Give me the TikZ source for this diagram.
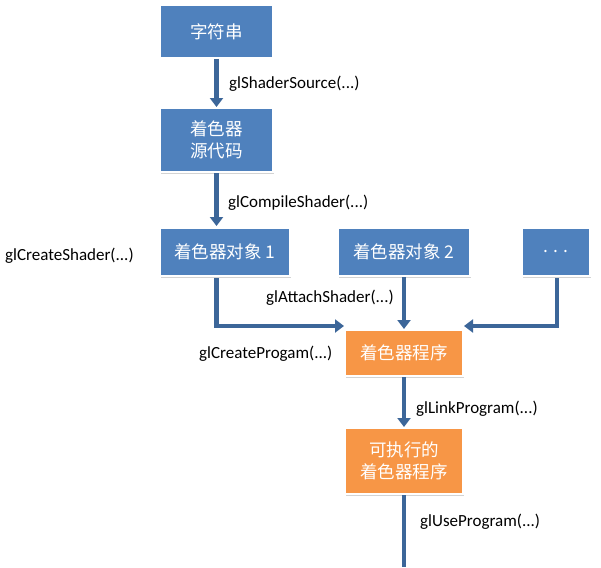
\documentclass[tikz,border=0pt]{standalone}
\usepackage{fontspec}
\setmainfont{Carlito}
\newfontfamily\cjk{Noto Sans CJK SC}
\usetikzlibrary{arrows.meta,shadows}
\definecolor{bbox}{HTML}{4F81BD}
\definecolor{obox}{HTML}{F79646}
\definecolor{arr}{HTML}{3C6699}
\tikzset{
 boxb/.style={draw=white,line width=2pt,fill=bbox,text=white,font=\cjk\fontsize{17.5}{22}\selectfont,align=center,inner sep=0pt,drop shadow={shadow xshift=1pt,shadow yshift=-1.5pt,opacity=0.35}},
 boxo/.style={boxb,fill=obox},
 conn/.style={draw=arr,line width=4.5pt,-{Triangle[width=13pt,length=9pt]}},
 plain/.style={draw=arr,line width=4.5pt},
 lbl/.style={font=\fontsize{17}{20}\selectfont,text=black,inner sep=0pt}
}
\begin{document}
\begin{tikzpicture}[x=1pt,y=-1pt]
\useasboundingbox (0,0) rectangle (601,567);
\node[boxb,minimum width=113pt,minimum height=53pt] (s) at (216.5,31.5) {字符串};
\node[boxb,minimum width=113pt,minimum height=64pt] (src) at (216.5,140) {着色器\\源代码};
\node[boxb,minimum width=130pt,minimum height=48pt] (o1) at (225,252) {着色器对象 1};
\node[boxb,minimum width=132pt,minimum height=48pt] (o2) at (404,252) {着色器对象 2};
\node[boxb,minimum width=68pt,minimum height=48pt] (o3) at (556,252) {. . .};
\node[boxo,minimum width=118pt,minimum height=46pt] (p) at (404,353) {着色器程序};
\node[boxo,minimum width=118pt,minimum height=66pt] (e) at (404,461) {可执行的\\着色器程序};
\coordinate (end) at (404,567);
\coordinate (a1) at (216.5,278);
\coordinate (a3) at (557,278);
\draw[conn] (s.south) -- (src.north);
\draw[conn] (src.south) -- (216.5,226);
\draw[conn] (a1) |- ([yshift=27pt]p.west);
\draw[conn] (o2.south) -- (p.north);
\draw[conn] (a3) |- ([yshift=27pt]p.east);
\draw[conn] (p.south) -- (e.north);
\draw[plain] (e.south) -- (end);
\node[lbl,anchor=west] (l1) at (229,84) {glShaderSource(...)};
\node[lbl,anchor=west] (l2) at (228,203) {glCompileShader(...)};
\node[lbl,anchor=west] (l3) at (5,256) {glCreateShader(...)};
\node[lbl,anchor=west] (l4) at (266,298) {glAttachShader(...)};
\node[lbl,anchor=west] (l5) at (199,354) {glCreateProgam(...)};
\node[lbl,anchor=west] (l6) at (416,409) {glLinkProgram(...)};
\node[lbl,anchor=west] (l7) at (420,522) {glUseProgram(...)};
\end{tikzpicture}
\end{document}
